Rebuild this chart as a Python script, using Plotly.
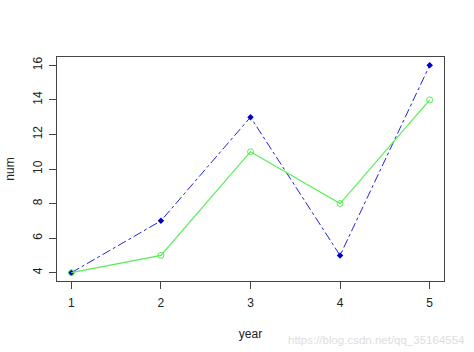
import plotly.graph_objects as go

years = [1, 2, 3, 4, 5]
num_a = [4, 7, 13, 5, 16]
num_b = [4, 5, 11, 8, 14]
x_ticks = [1, 2, 3, 4, 5]
y_ticks = [4, 6, 8, 10, 12, 14, 16]

fig = go.Figure()
fig.add_trace(go.Scatter(
    x=years, y=num_a, mode="lines+markers",
    line=dict(color="#2222dd", width=1, dash="dashdot"),
    marker=dict(symbol="diamond", size=5, color="#0000cc"),
))
fig.add_trace(go.Scatter(
    x=years, y=num_b, mode="lines+markers",
    line=dict(color="#55ee55", width=1.2),
    marker=dict(symbol="circle-open", size=6, color="#55ee55", line=dict(width=1)),
))

axis_common = dict(
    showline=True, mirror=True, linecolor="#444", linewidth=1,
    ticks="outside", ticklen=7, tickcolor="#444", tickwidth=1,
    showgrid=False, zeroline=False, automargin=False,
    tickfont=dict(family="Liberation Sans, Arial", size=12, color="#222"),
)

fig.update_layout(
    width=474, height=352,
    margin=dict(l=57, r=30, t=57, b=71),
    paper_bgcolor="white", plot_bgcolor="white",
    showlegend=False,
    font=dict(family="Liberation Sans, Arial", size=12, color="#222"),
    xaxis=dict(range=[0.84, 5.16], tickvals=x_ticks, ticklabelstandoff=4, **axis_common,
               title=dict(text="year", standoff=20, font=dict(size=12))),
    yaxis=dict(range=[3.52, 16.48], tickvals=y_ticks, tickangle=-90, ticklabelstandoff=2,
               **axis_common,
               title=dict(text="num", standoff=14, font=dict(size=12))),
    annotations=[dict(
        text="https://blog.csdn.net/qq_35164554", xref="paper", yref="paper",
        x=1.06, y=-0.262, xanchor="right", yanchor="middle", showarrow=False,
        font=dict(family="Liberation Sans", size=11.5, color="#dddddd"),
    )],
)

fig.write_html("out.html")
